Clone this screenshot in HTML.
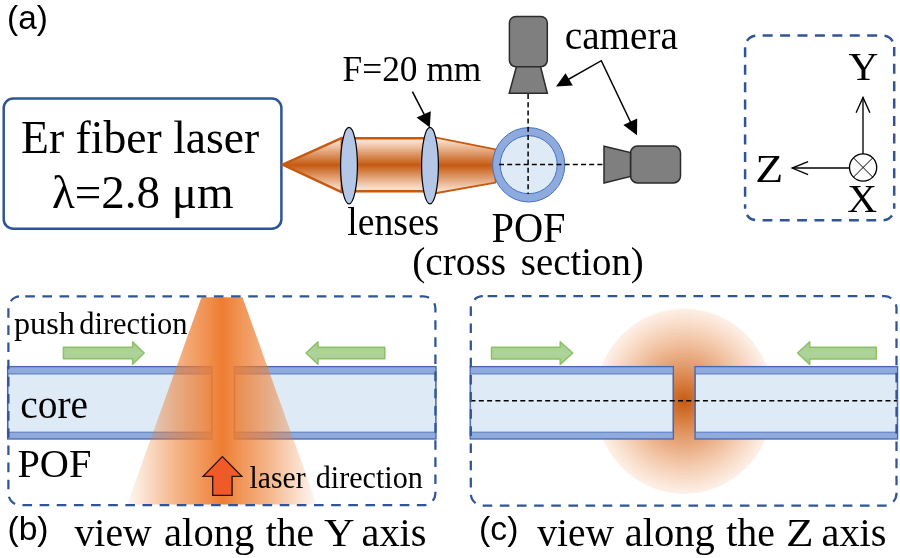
<!DOCTYPE html>
<html><head><meta charset="utf-8">
<style>
html,body{margin:0;padding:0;background:#fff;}
body{width:900px;height:558px;overflow:hidden;}
svg{display:block;will-change:transform;}
text{font-family:"Liberation Serif",serif;fill:#000;}
.ss{font-family:"Liberation Sans",sans-serif;}
</style></head><body>
<svg width="900" height="558" viewBox="0 0 900 558">
<defs>
<linearGradient id="beam" x1="0" y1="0" x2="0" y2="1">
<stop offset="0" stop-color="#fbe5d6"/><stop offset="0.08" stop-color="#f8d9c4"/><stop offset="0.5" stop-color="#c55a11"/><stop offset="0.92" stop-color="#f8d9c4"/><stop offset="1" stop-color="#fbe5d6"/>
</linearGradient>
<linearGradient id="cone" x1="0" y1="0" x2="1" y2="0">
<stop offset="0" stop-color="#ed7d31" stop-opacity="0.05"/><stop offset="0.25" stop-color="#ed7d31" stop-opacity="0.56"/><stop offset="0.41" stop-color="#ed7d31" stop-opacity="0.83"/><stop offset="0.475" stop-color="#ed7d31" stop-opacity="0.95"/><stop offset="0.5" stop-color="#ed7d31" stop-opacity="1"/><stop offset="0.525" stop-color="#ed7d31" stop-opacity="0.95"/><stop offset="0.59" stop-color="#ed7d31" stop-opacity="0.83"/><stop offset="0.75" stop-color="#ed7d31" stop-opacity="0.56"/><stop offset="1" stop-color="#ed7d31" stop-opacity="0.05"/>
</linearGradient>
<radialGradient id="glow" cx="0.5" cy="0.5" r="0.5">
<stop offset="0" stop-color="#c55a11"/><stop offset="1" stop-color="#ed7d31" stop-opacity="0.11"/>
</radialGradient>
<linearGradient id="grn" x1="0" y1="0" x2="0" y2="1">
<stop offset="0" stop-color="#a6cd8d"/><stop offset="0.5" stop-color="#aed39b"/><stop offset="1" stop-color="#a6cd8d"/>
</linearGradient>
</defs>
<rect width="900" height="558" fill="#fff"/>

<!-- laser box -->
<rect x="3.7" y="98.5" width="277.7" height="130.2" rx="9.5" fill="#fff" stroke="#2f5597" stroke-width="2.5"/>

<!-- beam -->
<g fill="url(#beam)" stroke="#c55a11" stroke-linejoin="round">
<path d="M431,136.6 L495.5,149.3 L495.5,182.7 L431,194 Z" stroke-width="1.8"/>
<path d="M282.6,164.6 L342,137.9 L342,192.3 Z" stroke-width="2.4"/>
<rect x="342" y="138.3" width="89" height="53" stroke-width="2.6"/>
</g>
<ellipse cx="349" cy="165.6" rx="8.4" ry="38.2" fill="#b4c7e7" stroke="#000" stroke-width="1.2"/>
<ellipse cx="430" cy="165.6" rx="8.4" ry="38.2" fill="#b4c7e7" stroke="#000" stroke-width="1.2"/>

<!-- POF cross-section -->
<ellipse cx="528.7" cy="164.8" rx="36.1" ry="37.2" fill="#8faadc" stroke="#4472c4" stroke-width="1"/>
<ellipse cx="528.7" cy="164.7" rx="28.5" ry="29" fill="#deebf7" stroke="#4472c4" stroke-width="1"/>
<line x1="528.1" y1="94" x2="528.1" y2="194" stroke="#000" stroke-width="1.5" stroke-dasharray="5,3.2"/>
<line x1="499" y1="164.6" x2="603.5" y2="164.6" stroke="#000" stroke-width="1.5" stroke-dasharray="5,3.2"/>

<!-- cameras -->
<g fill="#7f7f7f" stroke="#2b2b2b" stroke-width="1.5">
<rect x="509.4" y="16.4" width="37.9" height="50.4" rx="6.5"/>
<path d="M516.4,66.8 L540.6,66.8 L547.3,93.3 L509.2,93.3 Z"/>
<rect x="630.5" y="146.1" width="50" height="36.8" rx="7"/>
<path d="M630.5,152.6 L630.5,176.4 L604,183 L604,146.3 Z"/>
</g>
<path d="M562,83 L601.3,60.7 L631,123" fill="none" stroke="#000" stroke-width="1.5"/>
<path d="M556,86.4 L565.5,73.2 L572.8,85.5 Z" fill="#000"/>
<path d="M637,135.2 L623.3,124.9 L637.2,118.5 Z" fill="#000"/>

<!-- F=20 mm arrow -->
<line x1="412.4" y1="91.6" x2="425" y2="116" stroke="#000" stroke-width="1.6"/>
<path d="M429.8,127.6 L416.6,117.6 L430.8,111.2 Z" fill="#000"/>

<!-- axis box -->
<g fill="none" stroke="#2f5597" stroke-width="2.5">
<path d="M745.1,47.1 A11.5,11.5 0 0 1 756.6,35.6 H882.7 A11.5,11.5 0 0 1 894.2,47.1" stroke-dasharray="10,7.42" stroke-dashoffset="10.84"/>
<path d="M894.2,47.1 V208.7" stroke-dasharray="10,7.43" stroke-dashoffset="0.8"/>
<path d="M894.2,208.7 A11.5,11.5 0 0 1 882.7,220.2 H756.6 A11.5,11.5 0 0 1 745.1,208.7" stroke-dasharray="9.8,7.5" stroke-dashoffset="10.1"/>
<path d="M745.1,208.7 V47.1" stroke-dasharray="10,7.43" stroke-dashoffset="5.5"/>
</g>
<g stroke="#000" stroke-width="1.35" fill="none">
<line x1="863" y1="154" x2="863" y2="97.6"/>
<path d="M856.1,112.8 L863,97.4 L869.9,112.8"/>
<line x1="849.5" y1="168" x2="792.4" y2="168"/>
<path d="M808.1,161.6 L792.2,168 L808.1,174.6"/>
<circle cx="863.1" cy="167.5" r="13.6" fill="#fff"/>
<g stroke-width="1">
<line x1="853.5" y1="157.9" x2="872.7" y2="177.1"/>
<line x1="872.7" y1="157.9" x2="853.5" y2="177.1"/>
</g>
</g>

<!-- panel (b) -->
<g>
<g fill="#8faadc" stroke="#4668b0" stroke-width="1.3">
<rect x="7.6" y="366.6" width="204.4" height="72.4"/>
<rect x="234.2" y="366.6" width="201.8" height="72.4"/>
</g>
<g fill="#deebf7" stroke="#4668b0" stroke-width="0.8">
<rect x="8.1" y="374" width="203.4" height="58.1"/>
<rect x="234.7" y="374" width="200.8" height="58.1"/>
</g>
<path d="M201.5,297.2 L242.5,297.2 L316.8,504.6 L127.2,504.6 Z" fill="url(#cone)"/>
<rect x="8.4" y="296.3" width="427" height="208.9" rx="12" fill="none" stroke="#2f5597" stroke-width="2.25" stroke-dasharray="9.6,7.55" stroke-dashoffset="12.3"/>
<g fill="url(#grn)" stroke="#8cc168" stroke-width="1.5" stroke-linejoin="round">
<path d="M63.4,347.2 L132.6,347.2 L132.6,341.9 L144.2,353 L132.6,364.3 L132.6,358.8 L63.4,358.8 Z"/>
<path d="M384.8,347.2 L318,347.2 L318,341.9 L306,353 L318,364.3 L318,358.8 L384.8,358.8 Z"/>
</g>
<path d="M222.4,456.6 L241.8,476.4 L232.1,476.4 L232.1,495.3 L212.7,495.3 L212.7,476.4 L203.1,476.4 Z" fill="#f05a28" stroke="#2a1208" stroke-width="1.35" stroke-linejoin="miter"/>
</g>

<!-- panel (c) -->
<g>
<ellipse cx="684.2" cy="401.2" rx="89.3" ry="92.8" fill="url(#glow)"/>
<g fill="#8faadc" stroke="#4668b0" stroke-width="1.3">
<rect x="470.2" y="366.6" width="203.2" height="72.4"/>
<rect x="695" y="366.6" width="202.6" height="72.4"/>
</g>
<g fill="#deebf7" stroke="#4668b0" stroke-width="0.8">
<rect x="470.7" y="374" width="202.2" height="58.1"/>
<rect x="695.5" y="374" width="201.6" height="58.1"/>
</g>
<line x1="470.5" y1="400.7" x2="897" y2="400.7" stroke="#000" stroke-width="1.5" stroke-dasharray="5,3.3"/>
<rect x="470.8" y="296.2" width="425.7" height="209.3" rx="12" fill="none" stroke="#2f5597" stroke-width="2.25" stroke-dasharray="9.6,7.55" stroke-dashoffset="12.3"/>
<g fill="url(#grn)" stroke="#8cc168" stroke-width="1.5" stroke-linejoin="round">
<path d="M491.5,347.3 L560.2,347.3 L560.2,341.8 L572.7,353 L560.2,364.4 L560.2,358.9 L491.5,358.9 Z"/>
<path d="M876.3,347.3 L809.7,347.3 L809.7,341.8 L797.6,353 L809.7,364.4 L809.7,358.9 L876.3,358.9 Z"/>
</g>
</g>

<!-- texts -->
<text class="ss" transform="translate(7.04,29.20) scale(0.9809,1)" font-size="34">(a)</text>
<text transform="translate(21.11,152.80) scale(0.9922,1)" font-size="46">Er fiber laser</text>
<text transform="translate(51.99,208.00) scale(1.0115,1)" font-size="46.5">λ=2.8 μm</text>
<text transform="translate(342.60,80.90) scale(1.0046,1)" font-size="35.2">F=20 mm</text>
<text transform="translate(564.83,48.70) scale(0.9679,1)" font-size="40.5">camera</text>
<text transform="translate(347.20,235.30) scale(0.9306,1)" font-size="40.5">lenses</text>
<text transform="translate(491.53,242.20) scale(0.9723,1)" font-size="41.5">POF</text>
<text transform="translate(412.23,274.90) scale(0.9699,1)" font-size="40.5">(cross</text>
<text transform="translate(520.84,274.90) scale(0.9593,1)" font-size="40.5">section)</text>
<text transform="translate(848.40,80.30) scale(1.0069,1)" font-size="41">Y</text>
<text transform="translate(755.18,182.10) scale(1.1182,1)" font-size="41">Z</text>
<text transform="translate(847.20,211.50) scale(1.0207,1)" font-size="40.5">X</text>
<text transform="translate(14.00,333.70) scale(1.0379,1)" font-size="31">push</text>
<text transform="translate(79.22,334.00) scale(0.9829,1)" font-size="31">direction</text>
<text transform="translate(20.21,417.80) scale(0.9870,1)" font-size="40">core</text>
<text transform="translate(17.39,477.00) scale(1.0080,1)" font-size="40">POF</text>
<text transform="translate(249.60,487.90) scale(0.9562,1)" font-size="31">laser</text>
<text transform="translate(315.73,487.90) scale(0.9719,1)" font-size="31">direction</text>
<text class="ss" transform="translate(7.47,540.40) scale(1.0134,1)" font-size="33.2">(b)</text>
<text transform="translate(74.50,545.60) scale(0.9885,1)" font-size="40.2">view</text>
<text transform="translate(164.09,545.60) scale(1.0103,1)" font-size="40.2">along</text>
<text transform="translate(265.70,545.60) scale(0.9822,1)" font-size="40.2">the</text>
<text transform="translate(323.90,545.60) scale(1.0536,1)" font-size="40.2">Y</text>
<text transform="translate(361.60,545.60) scale(1.0016,1)" font-size="40.2">axis</text>
<text class="ss" transform="translate(479.07,539.90) scale(1.0160,1)" font-size="33.2">(c)</text>
<text transform="translate(537.30,545.90) scale(0.9821,1)" font-size="40.2">view</text>
<text transform="translate(624.69,545.90) scale(1.0103,1)" font-size="40.2">along</text>
<text transform="translate(726.30,545.90) scale(0.9905,1)" font-size="40.2">the</text>
<text transform="translate(786.08,545.90) scale(1.1227,1)" font-size="40.2">Z</text>
<text transform="translate(821.60,545.90) scale(1.0016,1)" font-size="40.2">axis</text>
</svg>
</body></html>
